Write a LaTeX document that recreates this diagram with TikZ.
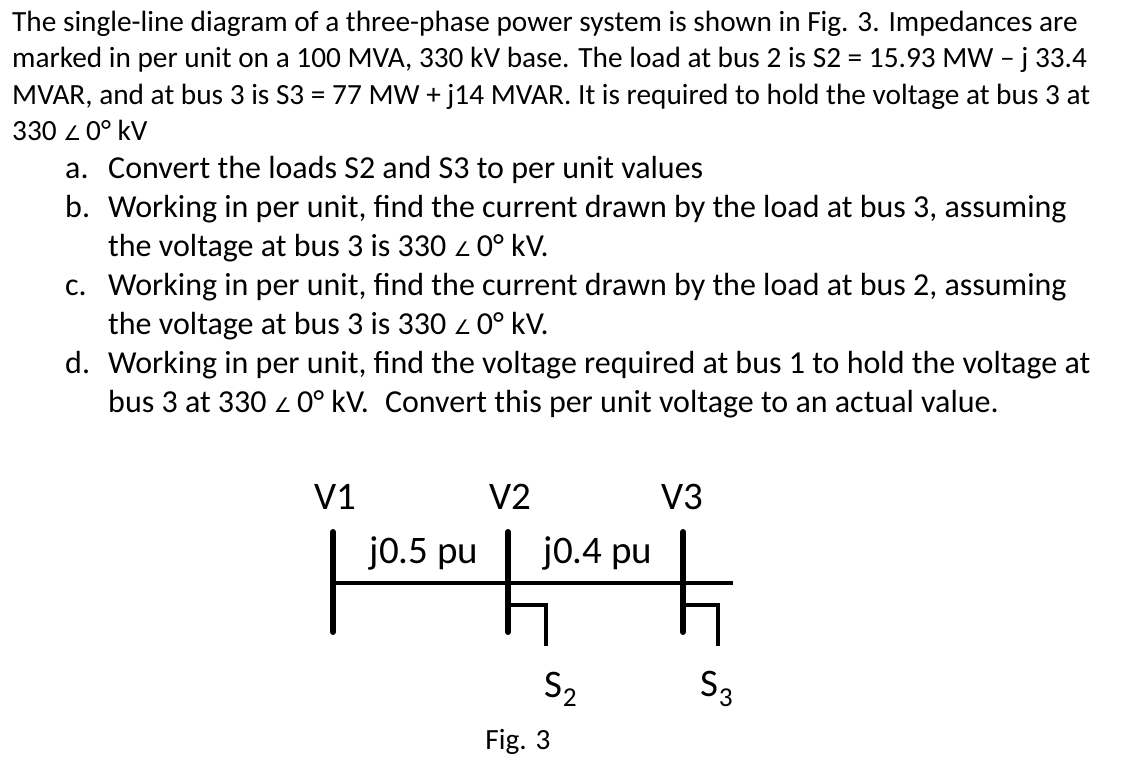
\documentclass[tikz,border=0pt]{standalone}
\usepackage{fontspec}
\setmainfont{Carlito}
\newfontfamily\symf{DejaVu Sans}
\newcommand{\ang}{{\symf\fontsize{20}{20}\selectfont ∠}\,}
\begin{document}
\begin{tikzpicture}[x=1pt,y=-1pt,
  txt/.style={anchor=base west,inner sep=0pt,font=\fontsize{29.3}{32}\selectfont},
  itm/.style={anchor=base west,inner sep=0pt,font=\fontsize{32}{34}\selectfont},
  lbl/.style={inner sep=0pt,font=\fontsize{39}{42}\selectfont},
  bus/.style={line width=6pt,line cap=round},
  ln/.style={line width=4.5pt}]
\useasboundingbox (0,0) rectangle (1130,783);
\node[txt] (l1) at (12,32) {The single-line diagram of a three-phase power system is shown in Fig. 3. Impedances are};
\node[txt] (l2) at (12,68) {marked in per unit on a 100 MVA, 330 kV base. The load at bus 2 is S2 = 15.93 MW – j 33.4};
\node[txt] (l3) at (12,105) {MVAR, and at bus 3 is S3 = 77 MW + j14 MVAR. It is required to hold the voltage at bus 3 at};
\node[txt] (l4) at (12,141) {330 \ang 0° kV};
\node[itm] (a) at (65,179) {a.};
\node[itm] (at) at (108,179) {Convert the loads S2 and S3 to per unit values};
\node[itm] (b) at (65,218) {b.};
\node[itm] (bt) at (108,218) {Working in per unit, find the current drawn by the load at bus 3, assuming};
\node[itm] (bt2) at (108,257) {the voltage at bus 3 is 330 \ang 0° kV.};
\node[itm] (c) at (65,296) {c.};
\node[itm] (ct) at (108,296) {Working in per unit, find the current drawn by the load at bus 2, assuming};
\node[itm] (ct2) at (108,335) {the voltage at bus 3 is 330 \ang 0° kV.};
\node[itm] (d) at (65,374) {d.};
\node[itm] (dt) at (108,374) {Working in per unit, find the voltage required at bus 1 to hold the voltage at};
\node[itm] (dt2) at (108,413) {bus 3 at 330 \ang 0° kV.\enspace Convert this per unit voltage to an actual value.};
% diagram
\coordinate (b1t) at (333,532); \coordinate (b1b) at (333,632);
\coordinate (b2t) at (508,532); \coordinate (b2b) at (508,632);
\coordinate (b3t) at (683,532); \coordinate (b3b) at (683,632);
\coordinate (b1m) at (333,583); \coordinate (end) at (733,583);
\draw[ln] (b1m) -- (end);
\draw[bus] (b1t) -- (b1b);
\draw[bus] (b2t) -- (b2b);
\draw[bus] (b3t) -- (b3b);
\coordinate (s2a) at (508,605); \coordinate (s2b) at (546,646);
\coordinate (s3a) at (683,605); \coordinate (s3b) at (718,646);
\draw[ln] (s2a) -| (s2b);
\draw[ln] (s3a) -| (s3b);
\node[lbl] (v1) at (335,497) {V1};
\node[lbl] (v2) at (510,497) {V2};
\node[lbl] (v3) at (682,497) {V3};
\node[lbl] (z1) at (424,553) {j0.5 pu};
\node[lbl] (z2) at (598,553) {j0.4 pu};
\node[lbl] (s2) at (561,689) {S\textsubscript{2}};
\node[lbl] (s3) at (717,689) {S\textsubscript{3}};
\node[lbl,font=\fontsize{29.3}{32}\selectfont] (fig) at (518,742) {Fig. 3};
\end{tikzpicture}
\end{document}
